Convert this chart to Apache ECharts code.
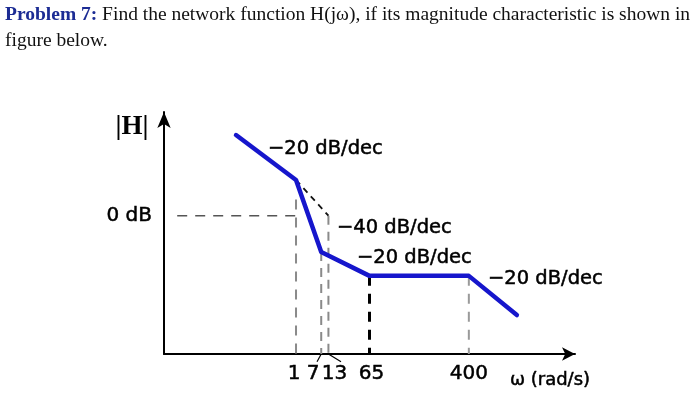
<!DOCTYPE html>
<html>
<head>
<meta charset="utf-8">
<script src="https://cdn.jsdelivr.net/npm/echarts@6/dist/echarts.min.js"></script>
<style>
html,body{margin:0;padding:0;background:#fff;}
#chart{width:692px;height:396px;}
</style>
</head>
<body>
<div id="chart"></div>
<script>
// ---- data (sketch positions along the ω axis; the original drawing is not to scale) ----
const omegaLabels = ['1', '7', '13', '65', '400'];
const omegaPos = [0, 0.42, 0.54, 1.225, 2.88];
const magX = [-1.0, 0, 0.42, 1.225, 2.88, 3.68];
const magDb = [35.0, 15.5, -15.7, -26.1, -26.1, -43.1];
const asymX = [0, 0.54];
const asymDb = [15.5, 0];
const dropTopDb = [7, -15.7, 0, -26.1, -26.1];
const slopeLabels = ['\u221220 dB/dec', '\u221240 dB/dec', '\u221220 dB/dec', '\u221220 dB/dec'];
const zeroDbLabel = '0 dB';
const yName = '|H|';
const xName = '\u03c9 (rad/s)';

const Y_MIN = -60, Y_MAX = 45, X_MIN = -2.2, X_MAX = 4.649;
const SANS = 'DejaVu Sans';

const chart = echarts.init(document.getElementById('chart'));

const zip = (xs, ys) => xs.map((x, i) => [x, ys[i]]);

const dropStyles = [
  { color: '#8a8a8a', width: 2, type: [10, 8] },
  { color: '#8a8a8a', width: 2, type: [9, 7] },
  { color: '#8a8a8a', width: 2, type: [9, 7] },
  { color: '#000000', width: 3, type: [10, 8] },
  { color: '#9a9a9a', width: 2, type: [10, 8] }
];

const series = [];
// vertical guide lines
omegaPos.forEach((p, i) => {
  series.push({
    type: 'line', symbol: 'none', silent: true, z: 2,
    data: [[p, dropTopDb[i]], [p, Y_MIN]],
    lineStyle: dropStyles[i]
  });
});
// 0 dB guide
series.push({
  type: 'line', symbol: 'none', silent: true, z: 2,
  data: [[-1.98, 0], [omegaPos[0], 0]],
  lineStyle: { color: '#555', width: 1.5, type: [10, 8] }
});
// extended asymptote
series.push({
  type: 'line', symbol: 'none', silent: true, z: 3,
  data: zip(asymX, asymDb),
  lineStyle: { color: '#111', width: 1.8, type: [6, 5] }
});
// leader lines from tick labels 7 and 13
[[1, -0.07], [2, 0.21]].forEach(([i, dx]) => {
  series.push({
    type: 'line', symbol: 'none', silent: true, clip: false, z: 3,
    data: [[omegaPos[i], Y_MIN], [omegaPos[i] + dx, Y_MIN - 3.4]],
    lineStyle: { color: '#000', width: 1.2 }
  });
});
// magnitude characteristic
series.push({
  type: 'line', symbol: 'none', z: 10,
  data: zip(magX, magDb),
  lineStyle: { color: '#1616cc', width: 4.5, cap: 'round', join: 'round' }
});

const thick = { textBorderColor: '#000', textBorderWidth: 0.5 };
const richSans = Object.assign({ fontFamily: SANS, fontSize: 20, color: '#000' }, thick);
const lbl = (text, x, y) => ({
  type: 'text', x: x, y: y, silent: true,
  style: { text: text, fontFamily: SANS, fontSize: 19.5, fill: '#000', align: 'left', verticalAlign: 'middle',
    stroke: '#000', lineWidth: 0.5 }
});

const option = {
  animation: false,
  backgroundColor: '#fff',
  grid: { left: 164, top: 112, width: 411, height: 242 },
  xAxis: {
    type: 'value', min: X_MIN, max: X_MAX,
    axisLine: { show: true, onZero: false, symbol: ['none', 'arrow'], symbolSize: [10, 13],
      lineStyle: { color: '#000', width: 2 } },
    axisTick: { show: false },
    splitLine: { show: false },
    axisLabel: {
      customValues: omegaPos,
      margin: 10,
      fontFamily: SANS, fontSize: 20, color: '#000',
      formatter: function (v) {
        const i = omegaPos.indexOf(v);
        if (i < 0) return '';
        if (i === 0) return '{l1|' + omegaLabels[i] + '}';
        if (i === 1) return '{l|' + omegaLabels[i] + '}';
        if (i === 2) return '{r|' + omegaLabels[i] + '}';
        if (i === 3) return '{r2|' + omegaLabels[i] + '}';
        return '{n|' + omegaLabels[i] + '}';
      },
      rich: {
        n: Object.assign({}, richSans),
        l1: Object.assign({ padding: [0, 4, 0, 0] }, richSans),
        l: Object.assign({ padding: [0, 16, 0, 0] }, richSans),
        r: Object.assign({ padding: [0, 0, 0, 12] }, richSans),
        r2: Object.assign({ padding: [0, 0, 0, 4] }, richSans)
      }
    }
  },
  yAxis: {
    type: 'value', min: Y_MIN, max: Y_MAX,
    axisLine: { show: true, onZero: false, symbol: ['none', 'arrow'], symbolSize: [10, 16],
      lineStyle: { color: '#000', width: 2 } },
    axisTick: { show: false },
    splitLine: { show: false },
    axisLabel: Object.assign({
      customValues: [0],
      margin: 12,
      fontFamily: SANS, fontSize: 20, color: '#000',
      formatter: function (v) { return v === 0 ? zeroDbLabel : ''; }
    }, thick)
  },
  graphic: [
    {
      type: 'text', left: 5, top: 2, silent: true,
      style: {
        text: '{b|Problem 7:} Find the network function H(j\u03c9), if its magnitude characteristic is shown in\nfigure below.',
        fontFamily: 'Liberation Serif', fontSize: 19.5, lineHeight: 26, fill: '#111',
        rich: {
          b: { fontFamily: 'Liberation Serif', fontSize: 19.5, fontWeight: 'bold', fill: '#1c2c94', color: '#1c2c94' }
        }
      }
    },
    { type: 'text', x: 132, y: 127, silent: true,
      style: { text: yName, fontFamily: 'Liberation Serif', fontWeight: 'bold', fontSize: 27, fill: '#000',
        align: 'center', verticalAlign: 'middle' } },
    lbl(slopeLabels[0], 268, 149),
    lbl(slopeLabels[1], 337, 227.5),
    lbl(slopeLabels[2], 357, 257.5),
    lbl(slopeLabels[3], 488, 279),
    { type: 'text', x: 550, y: 380, silent: true,
      style: { text: xName, fontFamily: SANS, fontSize: 18, fill: '#000', align: 'center', verticalAlign: 'middle',
        stroke: '#000', lineWidth: 0.5 } }
  ],
  series: series
};

chart.setOption(option);
</script>
</body>
</html>
